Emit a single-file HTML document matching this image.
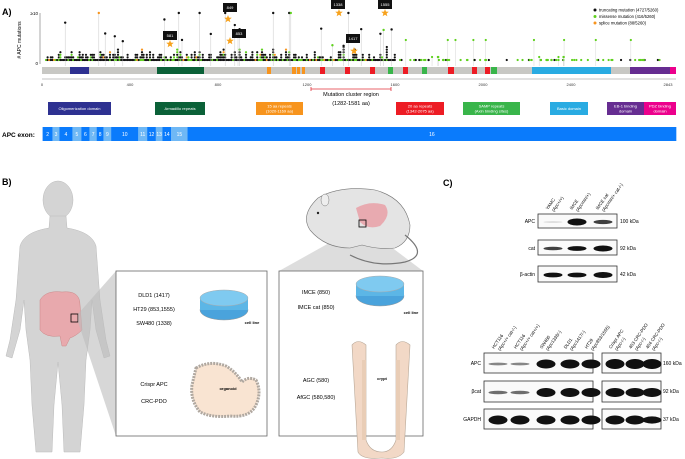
<!DOCTYPE html>
<html><head><meta charset="utf-8"><style>
html,body{margin:0;padding:0;background:#fff;}
svg{display:block;font-family:"Liberation Sans",sans-serif;}
</style></head><body>
<svg id="s" width="685" height="459" viewBox="0 0 685 459" xmlns="http://www.w3.org/2000/svg">
<text x="2" y="15" font-size="9" font-weight="bold">A)</text>
<text x="21" y="40" font-size="5" transform="rotate(-90 21 40)" text-anchor="middle"># APC mutations</text>
<line x1="40" y1="13" x2="40" y2="64" stroke="#555" stroke-width="0.5"/>
<text x="38" y="15" font-size="4.5" text-anchor="end">≥10</text>
<text x="38" y="65" font-size="4.5" text-anchor="end">0</text>
<g id="lol"></g>
<rect x="42" y="67" width="634" height="7" fill="#c8c8c4"/>
<g id="dom"></g>
<line x1="42" y1="79" x2="676" y2="79" stroke="#888" stroke-width="0.6"/>
<g font-size="4" text-anchor="middle" fill="#333">
<text x="42" y="86">0</text><text x="130" y="86">400</text><text x="218" y="86">800</text><text x="307" y="86">1200</text><text x="395" y="86">1600</text><text x="483" y="86">2000</text><text x="571" y="86">2400</text><text x="668" y="86">2843</text>
</g>
<line x1="311" y1="89" x2="391" y2="89" stroke="#e0303a" stroke-width="0.8"/>
<line x1="311" y1="87" x2="311" y2="91" stroke="#e0303a" stroke-width="0.8"/><line x1="391" y1="87" x2="391" y2="91" stroke="#e0303a" stroke-width="0.8"/>
<text x="351" y="96" font-size="5.5" text-anchor="middle">Mutation cluster region</text>
<text x="351" y="105" font-size="5.5" text-anchor="middle">(1282-1581 aa)</text>
<g font-size="4" fill="#fff" text-anchor="middle">
<rect x="48" y="102" width="63" height="13" fill="#2e3191"/><text x="79.5" y="110">Oligomerization domain</text>
<rect x="155" y="102" width="50" height="13" fill="#0b6138"/><text x="180" y="110">Armadillo repeats</text>
<rect x="256" y="102" width="47" height="13" fill="#f7941d"/><text x="279.5" y="107.5">15 aa repeats</text><text x="279.5" y="112.5">(1020-1169 aa)</text>
<rect x="396" y="102" width="48" height="13" fill="#ed1c24"/><text x="420" y="107.5">20 aa repeats</text><text x="420" y="112.5">(1342-2075 aa)</text>
<rect x="463" y="102" width="57" height="13" fill="#39b54a"/><text x="491.5" y="107.5">SAMP repeats</text><text x="491.5" y="112.5">(Axin binding sites)</text>
<rect x="550" y="102" width="38" height="13" fill="#29abe2"/><text x="569" y="110">Basic domain</text>
<rect x="607" y="102" width="37" height="13" fill="#662d91"/><text x="625.5" y="107.5">EB-1 binding</text><text x="625.5" y="112.5">domain</text>
<rect x="644" y="102" width="32" height="13" fill="#ec008c"/><text x="660" y="107.5">PDZ binding</text><text x="660" y="112.5">domain</text>
</g>
<text x="2" y="137" font-size="6.5" font-weight="bold">APC exon:</text>
<g id="ex"></g>
<g font-size="4.2">
<circle cx="595" cy="10" r="1.5" fill="#111"/><text x="599" y="11.5">truncating mutation (4727/5260)</text>
<circle cx="595" cy="16.5" r="1.5" fill="#5fd11e"/><text x="599" y="18">missense mutation (416/5260)</text>
<circle cx="595" cy="23" r="1.5" fill="#f7941d"/><text x="599" y="24.5">splice mutation (88/5260)</text>
</g>
<g id="tags"></g>

<text x="2" y="185" font-size="9" font-weight="bold">B)</text>
<g fill="#d4d4d4" stroke="#bbb" stroke-width="0.5">
<ellipse cx="58" cy="200" rx="15" ry="19"/>
<path d="M50 216 L66 216 L67 228 Q92 232 96 246 L100 300 L106 340 L110 356 L104 358 L96 330 L92 300 L90 330 L86 360 L84 405 L80 452 L64 452 L62 405 L58 362 L54 405 L52 452 L36 452 L32 405 L30 360 L26 330 L24 300 L20 330 L12 358 L6 356 L10 340 L16 300 L20 246 Q24 232 49 228 Z"/>
</g>
<path d="M40 300 Q46 290 62 292 Q80 290 80 305 L82 330 Q76 336 70 338 L66 346 L62 346 L60 336 Q46 338 40 330 Z" fill="#e8a9ad" stroke="#c88" stroke-width="0.5"/>
<rect x="71" y="314" width="7" height="8" fill="none" stroke="#000" stroke-width="0.8"/>
<polygon points="78,314 78,322 116,436 116,271" fill="#bdbdbd" opacity="0.6"/>
<polygon points="356,228 366,228 423,271 279,271" fill="#cfcfcf" opacity="0.7"/>
<path d="M310 230 Q300 215 318 198 Q340 185 375 190 Q405 198 410 225 Q410 242 395 248 Q380 250 362 245 L350 248 Q325 248 310 230 Z" fill="#e4e4e4" stroke="#777" stroke-width="0.6"/>
<path d="M405 235 Q430 255 405 262 Q375 268 350 255" fill="none" stroke="#777" stroke-width="1.2"/>
<circle cx="318" cy="213" r="1.2" fill="#222"/>
<ellipse cx="325" cy="200" rx="4" ry="6" fill="#eee" stroke="#777" stroke-width="0.5"/>
<path d="M356 208 Q370 200 385 205 Q392 215 380 226 Q368 230 360 222 Z" fill="#e8aab0"/>
<rect x="359" y="220" width="7" height="7" fill="none" stroke="#000" stroke-width="0.8"/>
<rect x="116" y="271" width="151" height="165" fill="#fff" stroke="#666" stroke-width="0.8"/>
<rect x="279" y="271" width="144" height="165" fill="#fff" stroke="#666" stroke-width="0.8"/>
<g font-size="5.5" text-anchor="middle">
<text x="154" y="297">DLD1 (1417)</text><text x="154" y="311">HT29 (853,1555)</text><text x="154" y="325">SW480 (1338)</text>
<text x="154" y="386">Crispr APC</text><text x="154" y="403">CRC-PDO</text>
<text x="316" y="294">IMCE (850)</text><text x="316" y="309">IMCE  cat (850)</text>
<text x="316" y="382">AGC (580)</text><text x="316" y="399">AfGC (580,580)</text>
</g>
<g>
<ellipse cx="224" cy="310" rx="24" ry="10" fill="#4aa3dc" stroke="#999" stroke-width="0.5"/>
<rect x="200" y="298" width="48" height="12" fill="#5cb6e6"/>
<ellipse cx="224" cy="298" rx="24" ry="8" fill="#7fcaf0" stroke="#aaa" stroke-width="0.5"/>
<text x="252" y="324" font-size="4" font-weight="bold" text-anchor="middle">cell line</text>
<ellipse cx="380" cy="296" rx="24" ry="10" fill="#4aa3dc" stroke="#999" stroke-width="0.5"/>
<rect x="356" y="284" width="48" height="12" fill="#5cb6e6"/>
<ellipse cx="380" cy="284" rx="24" ry="8" fill="#7fcaf0" stroke="#aaa" stroke-width="0.5"/>
<text x="411" y="314" font-size="4" font-weight="bold" text-anchor="middle">cell line</text>
</g>
<path d="M196 368 Q210 360 226 366 Q236 372 242 382 Q248 376 256 380 Q262 392 256 405 Q250 418 230 416 Q212 418 200 412 Q190 400 192 385 Z" fill="#f9e4d2" stroke="#b0a8a0" stroke-width="3" stroke-dasharray="2 1"/>
<text x="228" y="390" font-size="4" font-weight="bold" text-anchor="middle">organoid</text>
<path d="M352 345 Q358 338 366 345 L366 440 Q370 452 382 452 Q392 452 396 440 L396 345 Q402 338 410 345 L404 452 Q398 460 382 458 Q362 460 358 452 Z" fill="#f2d8c6" stroke="#b8a898" stroke-width="0.6"/>
<rect x="362" y="360" width="4" height="80" fill="#e9cdb6"/><rect x="396" y="360" width="4" height="80" fill="#e9cdb6"/>
<text x="382" y="380" font-size="4" font-weight="bold" text-anchor="middle">crypt</text>

<text x="443" y="186" font-size="9" font-weight="bold">C)</text>
<g id="blots"></g>
</svg>
<script>
var s=0x1234;function r(){s=(s*16807)%2147483647;return s/2147483647;}
var NS="http://www.w3.org/2000/svg";
function el(p,t,a){var e=document.createElementNS(NS,t);for(var k in a)e.setAttribute(k,a[k]);document.getElementById(p).appendChild(e);return e;}
var col=function(){var q=r();return q<0.08?"#5fd11e":(q<0.13?"#f7941d":"#111");};
for(var x=46;x<396;x+=1.6){
 var n=1+Math.floor(r()*r()*6);
 for(var k=0;k<n;k++){var y=60-k*2.6;el("lol","circle",{cx:x,cy:y,r:1.1,fill:(k==0&&r()<0.2)?"#5fd11e":col()});}
 if(r()<0.12){var y=15+r()*38;if(r()<0.3)y=13;el("lol","line",{x1:x,y1:y,x2:x,y2:66,stroke:"#bbb","stroke-width":0.4});el("lol","circle",{cx:x,cy:y,r:1.2,fill:col()});}
}
for(var i=0;i<90;i++){var x=396+r()*270;var y=r()<0.85?60:(r()<0.5?57:40);var c=r()<0.8?"#5fd11e":"#111";if(y<58)el("lol","line",{x1:x,y1:y,x2:x,y2:66,stroke:"#ccc","stroke-width":0.4});el("lol","circle",{cx:x,cy:y,r:1.1,fill:c});}
var D=[[70,19,"#2e3191"],[157,47,"#0b6138"],[267,4,"#f7941d"],[292,4,"#f7941d"],[297,3,"#f7941d"],[302,3,"#f7941d"],[320,5,"#ed1c24"],[345,5,"#ed1c24"],[370,5,"#ed1c24"],[388,5,"#39b54a"],[403,5,"#ed1c24"],[422,5,"#39b54a"],[448,6,"#ed1c24"],[472,5,"#ed1c24"],[485,5,"#ed1c24"],[491,6,"#39b54a"],[532,79,"#29abe2"],[630,40,"#662d91"],[670,6,"#ec008c"]];
D.forEach(function(d){el("dom","rect",{x:d[0],y:67,width:d[1],height:7,fill:d[2]});});
var E=[[97,120,"2"],[120,135,"3"],[135,165,"4"],[165,185,"5"],[185,204,"6"],[204,220,"7"],[220,236,"8"],[236,253,"9"],[253,315,"10"],[315,335,"11"],[335,355,"12"],[355,370,"13"],[370,390,"14"],[390,427,"15"],[427,1540,"16"]];
E.forEach(function(e,i){var x1=e[0]/2.277,x2=e[1]/2.277;el("ex","rect",{x:x1,y:127,width:x2-x1,height:14,fill:(i%2? "#6fb8f5":"#0a7bfc")});var t=el("ex","text",{x:(x1+x2)/2,y:136,"font-size":5,fill:"#fff","text-anchor":"middle"});t.textContent=e[2];});
var T=[[163,31,"581",170,44],[223,3,"849",228,19],[232,29,"853",230,41],[331,0,"1338",339,13],[346,34,"1417",354,51],[378,0,"1555",385,13]];
T.forEach(function(t){el("tags","rect",{x:t[0],y:t[1],width:14,height:9,fill:"#111"});var a=el("tags","text",{x:t[0]+7,y:t[1]+6,"font-size":4,fill:"#fff","text-anchor":"middle"});a.textContent=t[2];var x=t[3],y=t[4];var p="";for(var k=0;k<10;k++){var R=k%2?1.7:4,an=-Math.PI/2+k*Math.PI/5;p+=(x+R*Math.cos(an))+","+(y+R*Math.sin(an))+" ";}el("tags","polygon",{points:p,fill:"#f7a21d"});});
function blot(x,y,w,h,lanes,ws,th){el("blots","rect",{x:x,y:y,width:w,height:h,fill:"#fafafa",stroke:"#333","stroke-width":0.8});lanes.forEach(function(l,i){el("blots","ellipse",{cx:l,cy:y+h/2+1,rx:9.5,ry:th*ws[i],fill:"#111",opacity:Math.min(1,ws[i]+0.2)});});}
function lab(x,y,t,a){var e=el("blots","text",{x:x,y:y,"font-size":5,"text-anchor":a||"start"});e.textContent=t;}
blot(538,214,79,14,[553,577,603],[0.1,1,0.6],3.5);lab(535,223,"APC","end");lab(620,223,"100 kDa");
blot(538,240,79,15,[553,577,603],[0.6,0.8,1],3);lab(535,250,"cat","end");lab(620,250,"92 kDa");
blot(538,266,79,16,[553,577,603],[0.8,0.8,1],3);lab(535,276,"β-actin","end");lab(620,276,"42 kDa");
var L1=[498,520,546,570,591],L2=[615,635,652];
blot(484,353,109,20,L1,[0.3,0.3,1,1,1],4.5);blot(602,353,59,20,L2,[1,1,1],5);lab(481,365,"APC","end");lab(663,365,"160 kDa");
blot(484,381,109,21,L1,[0.4,0.4,1,1,1],4.5);blot(602,381,59,21,L2,[1,1,1],4.5);lab(481,393,"βcat","end");lab(663,393,"92 kDa");
blot(484,409,109,20,L1,[1,1,1,1,1],4.5);blot(602,409,59,20,L2,[1,1,0.8],4.5);lab(481,421,"GAPDH","end");lab(663,421,"37 kDa");
function rot(x,y,t){var e=el("blots","text",{x:x,y:y,"font-size":4.5,transform:"rotate(-55 "+x+" "+y+")"});e.textContent=t;}
rot(548,210,"YAMC");rot(554,212,"(Apc+/+)");rot(572,210,"IMCE");rot(578,212,"(Apcmin/+)");rot(598,210,"IMCE  cat");rot(604,212,"(Apcmin/+ cat-/-)");
var H=[["HCT116","(Apc+/+ cat-/-)"],["HCT116","(Apc+/+ cat+/+)"],["SW480","(Apc1338/-)"],["DLD1","(Apc1417/-)"],["HT29","(Apc853/1555)"],["Crispr APC","(Apc-/-)"],["403 CRC-PDO","(Apc-/-)"],["404 CRC-PDO","(Apc-/-)"]];
L1.concat(L2).forEach(function(x,i){rot(x-4,349,H[i][0]);rot(x+2,351,H[i][1]);});
</script>
</body></html>
